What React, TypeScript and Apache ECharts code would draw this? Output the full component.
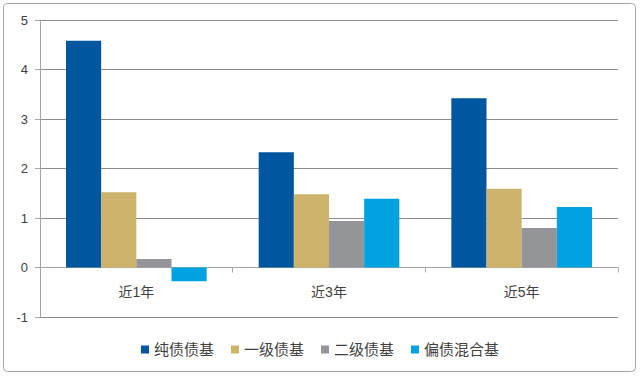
import React, { useEffect, useRef } from "react";
import * as echarts from "echarts";

const categories = ["近1年", "近3年", "近5年"];
const seriesNames = ["纯债债基", "一级债基", "二级债基", "偏债混合基"];
const pureBond = [4.58, 2.33, 3.42];
const primaryBond = [1.52, 1.48, 1.59];
const secondaryBond = [0.17, 0.94, 0.8];
const hybridBond = [-0.28, 1.39, 1.22];
const colors = ["#00569F", "#CDB36B", "#939598", "#00A3E0"];

export default function App() {
  const ref = useRef<HTMLDivElement>(null);
  useEffect(() => {
    if (!ref.current) return;
    const chart = echarts.init(ref.current, null, { renderer: "svg" });
    const values = [pureBond, primaryBond, secondaryBond, hybridBond];
    const font = '"Liberation Sans", "Noto Sans CJK SC", sans-serif';
    chart.setOption({
      animation: false,
      color: colors,
      textStyle: { fontFamily: font },
      graphic: [
        {
          type: "rect",
          shape: { x: 3.5, y: 3.5, width: 632, height: 368, r: 4 },
          style: { fill: "none", stroke: "#A6A6A6", lineWidth: 1 },
          silent: true,
        },
      ],
      grid: { left: 40, right: 22, top: 20, bottom: 60 },
      legend: {
        bottom: 15,
        left: "center",
        itemWidth: 8,
        itemHeight: 8,
        itemGap: 17,
        icon: "rect",
        textStyle: { fontSize: 15, color: "#404040", fontFamily: font },
        data: seriesNames,
      },
      xAxis: {
        type: "category",
        data: categories,
        axisLine: { onZero: true, lineStyle: { color: "#A6A6A6" } },
        axisTick: { show: true, length: 5, lineStyle: { color: "#A6A6A6" } },
        axisLabel: { fontSize: 14, color: "#404040", margin: -32, fontFamily: font },
      },
      yAxis: {
        type: "value",
        min: -1,
        max: 5,
        interval: 1,
        axisLine: { show: true, lineStyle: { color: "#A6A6A6" } },
        axisTick: { show: true, length: 5, lineStyle: { color: "#A6A6A6" } },
        axisLabel: { fontSize: 13, color: "#404040", margin: 12, fontFamily: font },
        splitLine: { show: true, lineStyle: { color: "#8C8C8C" } },
      },
      series: seriesNames.map((name, i) => ({
        name,
        type: "bar",
        data: values[i],
        barGap: "0%",
        barCategoryGap: "27%",
        itemStyle: { color: colors[i] },
      })),
    });
    return () => chart.dispose();
  }, []);
  return (
    <div
      ref={ref}
      style={{ position: "fixed", left: 0, top: 0, width: 640, height: 377, background: "#fff" }}
    />
  );
}
